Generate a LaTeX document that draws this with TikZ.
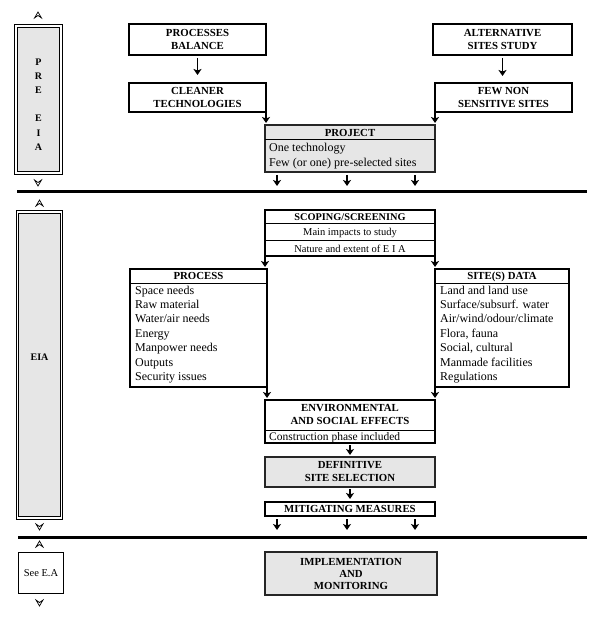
\documentclass[tikz,border=0pt]{standalone}
\usepackage{fontspec}
\setmainfont{Liberation Serif}
\usetikzlibrary{arrows.meta}
\definecolor{boxgray}{HTML}{E6E6E6}
\tikzset{
  box/.style={draw, line width=1.4pt, inner sep=0pt, outer sep=0pt, anchor=north west,
    align=center, font=\fontsize{10.8}{13}\selectfont\bfseries},
  gbox/.style={box, fill=boxgray, draw=black!85, line width=1.8pt},
  sidebox/.style={draw, double=white, double distance=1.6pt, line width=1.1pt, fill=boxgray,
    anchor=north west, inner sep=0pt, outer sep=0pt, align=center,
    font=\fontsize{10}{14.2}\selectfont\bfseries},
  thinbox/.style={draw, line width=1pt, inner sep=0pt, anchor=north west,
    font=\fontsize{10.5}{12}\selectfont},
  ttl/.style={font=\fontsize{10.8}{13}\selectfont\bfseries, inner sep=0pt, anchor=base},
  itm/.style={font=\fontsize{12}{14.4}\selectfont, inner sep=0pt, anchor=base west},
  sml/.style={font=\fontsize{10.5}{12}\selectfont, inner sep=0pt, anchor=base},
  divider/.style={line width=1pt},
  arr/.style={line width=1.3pt, -{Stealth[length=6pt,width=8pt,inset=1.5pt]}},
  rulebar/.style={line width=3pt},
  uptip/.pic={\draw[line width=0.7pt, line join=miter] (-3.5,6) -- (0,0) -- (3.5,6) -- (0,3.5) -- cycle;},
  dntip/.pic={\draw[line width=0.7pt, line join=miter] (-3.5,-6) -- (0,0) -- (3.5,-6) -- (0,-3.5) -- cycle;},
}
\begin{document}
\begin{tikzpicture}[x=1pt,y=-1pt]
\useasboundingbox (0,0) rectangle (600,617);

% ---------- left column ----------
\node[sidebox, minimum width=45pt, minimum height=147pt] (pre) at (16,26) {};
\node[font=\fontsize{10}{14.2}\selectfont\bfseries, align=center, inner sep=0pt] (pretxt) at (38.5,104.5) {P\\R\\E\\[14.2pt]E\\I\\A};
\node[sidebox, minimum width=44pt, minimum height=306pt] (eia) at (17.5,212) {};
\node[font=\fontsize{10}{12}\selectfont\bfseries, inner sep=0pt] (eiatxt) at (39.5,357) {EIA};
\node[thinbox, minimum width=45pt, minimum height=41pt] (see) at (18,552) {See E.A};

\pic at (38,12) {uptip};
\pic at (38,186) {dntip};
\pic at (39.5,200) {uptip};
\pic at (39.5,530) {dntip};
\pic at (39.5,541) {uptip};
\pic at (39.5,606) {dntip};

% ---------- rules ----------
\coordinate (r1l) at (17,192);
\coordinate (r1r) at (587,192);
\coordinate (r2l) at (18,537);
\coordinate (r2r) at (587,537);
\draw[rulebar] (r1l) -- (r1r);
\draw[rulebar] (r2l) -- (r2r);

% ---------- PRE EIA ----------
\node[box, minimum width=137pt, minimum height=31pt] (pb) at (129,24) {PROCESSES\\BALANCE};
\node[box, minimum width=137pt, minimum height=29pt] (ct) at (129,83) {CLEANER\\TECHNOLOGIES};
\node[box, minimum width=139pt, minimum height=31pt] (as) at (433,24) {ALTERNATIVE\\SITES STUDY};
\node[box, minimum width=137pt, minimum height=29pt] (fs) at (435,83) {FEW NON\\SENSITIVE SITES};

\node[gbox, minimum width=170pt, minimum height=47pt] (proj) at (265,125) {};
\draw[divider] (proj.west |- 0,140) -- (proj.east |- 0,140);
\node[ttl] (projt) at (350,136.5) {PROJECT};
\node[itm] (proj1) at (269,152) {One technology};
\node[itm] (proj2) at (269,167) {Few (or one) pre-selected sites};

\draw[arr, shorten <=3pt, shorten >=8pt] (pb.south) -- (pb.south |- ct.north);
\draw[arr, shorten <=3pt, shorten >=7pt] (as.south) -- (as.south |- fs.north);
\draw[arr, shorten <=1pt, shorten >=2pt] (ct.south east) -- (ct.south east |- proj.north);
\draw[arr, shorten <=1pt, shorten >=2pt] (fs.south west) -- (fs.south west |- proj.north);

\coordinate (pa1) at (277,186);
\coordinate (pa2) at (347,186);
\coordinate (pa3) at (415,186);
\foreach \c in {pa1,pa2,pa3}{
  \draw[arr, shorten <=3pt] (proj.south -| \c) -- (\c);
}

% ---------- EIA ----------
\node[box, minimum width=170pt, minimum height=46pt] (scop) at (265,210) {};
\draw[divider] (scop.west |- 0,223.5) -- (scop.east |- 0,223.5);
\draw[divider] (scop.west |- 0,240.5) -- (scop.east |- 0,240.5);
\node[ttl, font=\fontsize{10.3}{12}\selectfont\bfseries] (scopt) at (350,220.5) {SCOPING/SCREENING};
\node[sml] (scop1) at (350,235.5) {Main impacts to study};
\node[sml] (scop2) at (350,252) {Nature and extent of E I A};

\node[box, minimum width=137pt, minimum height=118pt] (proc) at (130,269) {};
\draw[divider] (proc.west |- 0,283) -- (proc.east |- 0,283);
\node[ttl] (proct) at (198.5,279.5) {PROCESS};
\foreach \t [count=\i] in {Space needs, Raw material, Water/air needs, Energy, Manpower needs, Outputs, Security issues}{
  \node[itm] (proc\i) at (135,279.6+14.4*\i) {\t};
}

\node[box, minimum width=134pt, minimum height=118pt] (site) at (435,269) {};
\draw[divider] (site.west |- 0,283) -- (site.east |- 0,283);
\node[ttl] (sitet) at (502,279.5) {SITE(S) DATA};
\foreach \t [count=\i] in {Land and land use, Surface/subsurf. water, Air/wind/odour/climate, {Flora, fauna}, {Social, cultural}, Manmade facilities, Regulations}{
  \node[itm] (site\i) at (440,279.6+14.4*\i) {\t};
}

\draw[arr, shorten <=1pt, shorten >=2pt] (scop.south west) -- (scop.south west |- proc.north);
\draw[arr, shorten <=1pt, shorten >=2pt] (scop.south east) -- (scop.south east |- site.north);

\node[box, minimum width=170pt, minimum height=43pt] (env) at (265,400) {};
\draw[divider] (env.west |- 0,430) -- (env.east |- 0,430);
\node[ttl] (envt1) at (350,411) {ENVIRONMENTAL};
\node[ttl] (envt2) at (350,424) {AND SOCIAL EFFECTS};
\node[itm, font=\fontsize{11.5}{13}\selectfont] (env1) at (269,440.5) {Construction phase included};

\draw[arr, shorten <=1pt, shorten >=2pt] (proc.south east) -- (proc.south east |- env.north);
\draw[arr, shorten <=1pt, shorten >=2pt] (site.south west) -- (site.south west |- env.north);

\node[gbox, minimum width=170pt, minimum height=30pt] (def) at (265,457) {DEFINITIVE\\SITE SELECTION};
\node[box, minimum width=170pt, minimum height=14pt] (mit) at (265,502) {MITIGATING MEASURES};

\draw[arr, shorten <=2pt, shorten >=2pt] (env.south) -- (def.north);
\draw[arr, shorten <=2pt, shorten >=3pt] (def.south) -- (mit.north);

\coordinate (ma1) at (277,530);
\coordinate (ma2) at (347,530);
\coordinate (ma3) at (415,530);
\foreach \c in {ma1,ma2,ma3}{
  \draw[arr, shorten <=3pt] (mit.south -| \c) -- (\c);
}

% ---------- implementation ----------
\node[gbox, minimum width=172pt, minimum height=43pt, font=\fontsize{10.8}{12}\selectfont\bfseries] (impl) at (265,552) {IMPLEMENTATION\\AND\\MONITORING};

\end{tikzpicture}
\end{document}
